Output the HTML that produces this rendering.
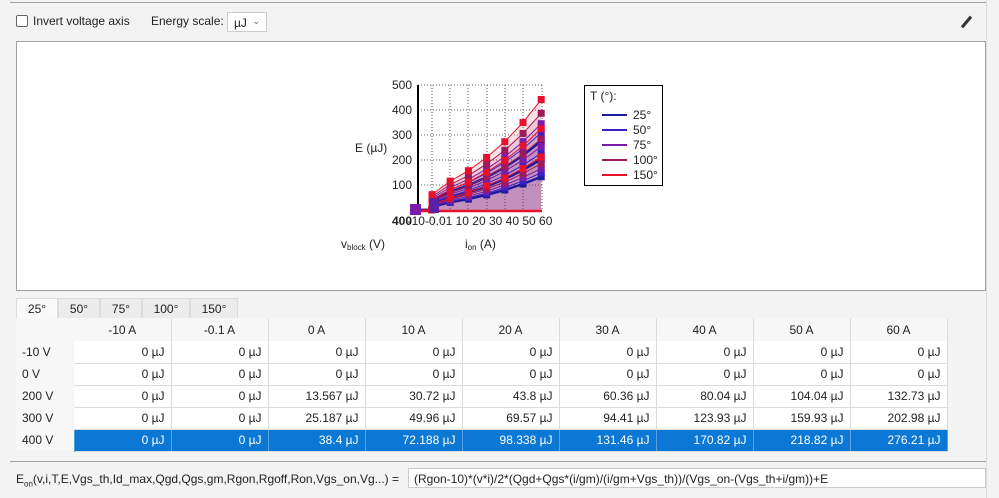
<!DOCTYPE html>
<html><head><meta charset="utf-8"><style>
*{box-sizing:border-box}
body{margin:0;width:999px;height:498px;background:#f3f3f3;font-family:"Liberation Sans",sans-serif;font-size:12px;color:#222;position:relative;overflow:hidden}
.abs{position:absolute}
table{border-collapse:collapse;position:absolute;left:16px;top:318px;font-size:12px}
td{height:22px;padding:0 6px;border-right:1px solid #dcdcdc;border-bottom:1px solid #dcdcdc;background:#fff;text-align:right;width:97px}
td.h{background:#f7f7f7;text-align:left;width:58px;border-right:none;border-bottom:none}
tr.hd td{background:#f7f7f7;text-align:center;height:23px;border-bottom:none}
tr.sel td{background:#0a78d4;color:#fff;border-right:1px solid #5aa0e0}
tr.sel td.h{background:#f7f7f7;color:#222}
.tab{position:absolute;top:298px;height:20px;line-height:20px;text-align:center;background:#ececec;border:1px solid #ddd;border-bottom:none}
</style></head><body>
<div class="abs" style="left:10px;top:2px;width:976px;height:1px;background:#a0a0a0"></div>
<div class="abs" style="left:986px;top:0;width:1px;height:498px;background:#ddd"></div>
<div class="abs" style="left:16px;top:15px;width:12px;height:12px;border:1px solid #666;border-radius:2px;background:#fff"></div>
<div class="abs" style="left:33px;top:14px">Invert voltage axis</div>
<div class="abs" style="left:151px;top:14px">Energy scale:</div>
<div class="abs" style="left:227px;top:12px;width:40px;height:20px;border:1px solid #ccc;background:#fff;padding:3px 6px">µJ <span style="float:right;font-size:9px;color:#666">&#8964;</span></div>
<div class="abs" style="left:965px;top:15px;width:3px;height:14px;background:#333;transform:rotate(40deg)"></div>
<div class="abs" style="left:16px;top:41px;width:970px;height:250px;background:#fff;border:1px solid #a0a0a0"></div>
<svg class="abs" style="left:0;top:0" width="999" height="300" id="ch"></svg>
<div class="tab" style="left:16px;width:42px;background:#f9f9f9">25°</div>
<div class="tab" style="left:58px;width:42px">50°</div>
<div class="tab" style="left:100px;width:42px">75°</div>
<div class="tab" style="left:142px;width:48px">100°</div>
<div class="tab" style="left:190px;width:48px">150°</div>
<table>
<tr class="hd"><td class="h"></td><td>-10 A</td><td>-0.1 A</td><td>0 A</td><td>10 A</td><td>20 A</td><td>30 A</td><td>40 A</td><td>50 A</td><td>60 A</td></tr>
<tr><td class="h">-10 V</td><td>0 µJ</td><td>0 µJ</td><td>0 µJ</td><td>0 µJ</td><td>0 µJ</td><td>0 µJ</td><td>0 µJ</td><td>0 µJ</td><td>0 µJ</td></tr>
<tr><td class="h">0 V</td><td>0 µJ</td><td>0 µJ</td><td>0 µJ</td><td>0 µJ</td><td>0 µJ</td><td>0 µJ</td><td>0 µJ</td><td>0 µJ</td><td>0 µJ</td></tr>
<tr><td class="h">200 V</td><td>0 µJ</td><td>0 µJ</td><td>13.567 µJ</td><td>30.72 µJ</td><td>43.8 µJ</td><td>60.36 µJ</td><td>80.04 µJ</td><td>104.04 µJ</td><td>132.73 µJ</td></tr>
<tr><td class="h">300 V</td><td>0 µJ</td><td>0 µJ</td><td>25.187 µJ</td><td>49.96 µJ</td><td>69.57 µJ</td><td>94.41 µJ</td><td>123.93 µJ</td><td>159.93 µJ</td><td>202.98 µJ</td></tr>
<tr class="sel"><td class="h">400 V</td><td>0 µJ</td><td>0 µJ</td><td>38.4 µJ</td><td>72.188 µJ</td><td>98.338 µJ</td><td>131.46 µJ</td><td>170.82 µJ</td><td>218.82 µJ</td><td>276.21 µJ</td></tr>
</table>
<div class="abs" style="left:10px;top:461px;width:976px;height:1px;background:#a0a0a0"></div>
<div class="abs" style="left:16px;top:472px">E<sub style="font-size:8px">on</sub>(v,i,T,E,Vgs_th,Id_max,Qgd,Qgs,gm,Rgon,Rgoff,Ron,Vgs_on,Vg...) =</div>
<div class="abs" style="left:408px;top:468px;width:578px;height:20px;border:1px solid #ccc;background:#fff;padding:3px 5px">(Rgon-10)*(v*i)/2*(Qgd+Qgs*(i/gm)/(i/gm+Vgs_th))/(Vgs_on-(Vgs_th+i/gm))+E</div>
<script>
var s=document.getElementById('ch'),h='';
function X(i){return 432+1.82*i}function Y(e){return 210-0.25*e}
[85,110,135,160,185].forEach(function(y){h+='<line x1="418" x2="542" y1="'+y+'" y2="'+y+'" stroke="#333" stroke-dasharray="1,2" stroke-width="0.8"/>'});
[432,450,468,487,505,523,542].forEach(function(x){h+='<line x1="'+x+'" x2="'+x+'" y1="85" y2="210" stroke="#333" stroke-dasharray="1,2" stroke-width="0.8"/>'});
var I=[-10,-0.1,0,10,20,30,40,50,60];
var B=[[0,0,13.6,30.7,43.8,60.4,80,104,132.7],[0,0,25.2,50,69.6,94.4,124,160,203],[0,0,38.4,72.2,98.3,131.5,170.8,218.8,276.2]];
var F=[1,1.12,1.25,1.4,1.6],C=['#1c1c9a','#3a20c8','#7a1ca8','#a01a5a','#e8102a'];
for(var t=0;t<5;t++){var p=B[2].map(function(v,j){return X(I[j])+','+Y(v*F[t])}).join(' ');
h+='<polygon points="'+p+' '+X(60)+','+Y(0)+' '+X(-10)+','+Y(0)+'" fill="'+C[t]+'" fill-opacity="0.12"/>';}
for(var t=0;t<5;t++){B.forEach(function(b){var pts=b.map(function(v,j){return [X(I[j]),Y(v*F[t])]});
h+='<polyline fill="none" stroke="'+C[t]+'" stroke-width="'+(t==0?2.5:1)+'" points="'+pts.join(' ')+'"/>';
pts.forEach(function(q){h+='<rect x="'+(q[0]-3.5)+'" y="'+(q[1]-3.5)+'" width="7" height="7" fill="'+C[t]+'"/>'});});}
h+='<line x1="418" x2="418" y1="85" y2="212" stroke="#000" stroke-width="2"/><line x1="418" x2="542" y1="211" y2="211" stroke="#e8102a" stroke-width="2.5"/>';
h+='<rect x="410" y="204" width="11" height="11" fill="#7a1ca8"/><rect x="429" y="198" width="10" height="15" fill="#5a20a8"/>';
var tx='font-size="12" fill="#222" font-family="Liberation Sans"';
[[500,85],[400,110],[300,135],[200,160],[100,185]].forEach(function(a){h+='<text x="412" y="'+(a[1]+4)+'" text-anchor="end" '+tx+'>'+a[0]+'</text>'});
h+='<text x="412" y="225" text-anchor="end" '+tx+' font-weight="bold">400</text>';
h+='<text x="480" y="225" text-anchor="middle" '+tx+'>-10-0.01 10 20 30 40 50 60</text>';
h+='<text x="355" y="152" '+tx+'>E (µJ)</text>';
h+='<text x="341" y="248" '+tx+'>v<tspan font-size="8" dy="2">block</tspan><tspan dy="-2"> (V)</tspan></text>';
h+='<text x="465" y="248" '+tx+'>i<tspan font-size="8" dy="2">on</tspan><tspan dy="-2"> (A)</tspan></text>';
h+='<rect x="584.5" y="85.5" width="78" height="100" fill="#fff" stroke="#000"/>';
h+='<text x="590" y="100" '+tx+'>T (°):</text>';
['25°','50°','75°','100°','150°'].forEach(function(l,k){var y=115+k*15;h+='<line x1="602" x2="627" y1="'+y+'" y2="'+y+'" stroke="'+C[k]+'" stroke-width="2"/><text x="633" y="'+(y+4)+'" '+tx+'>'+l+'</text>'});
s.innerHTML=h;
</script>
</body></html>
